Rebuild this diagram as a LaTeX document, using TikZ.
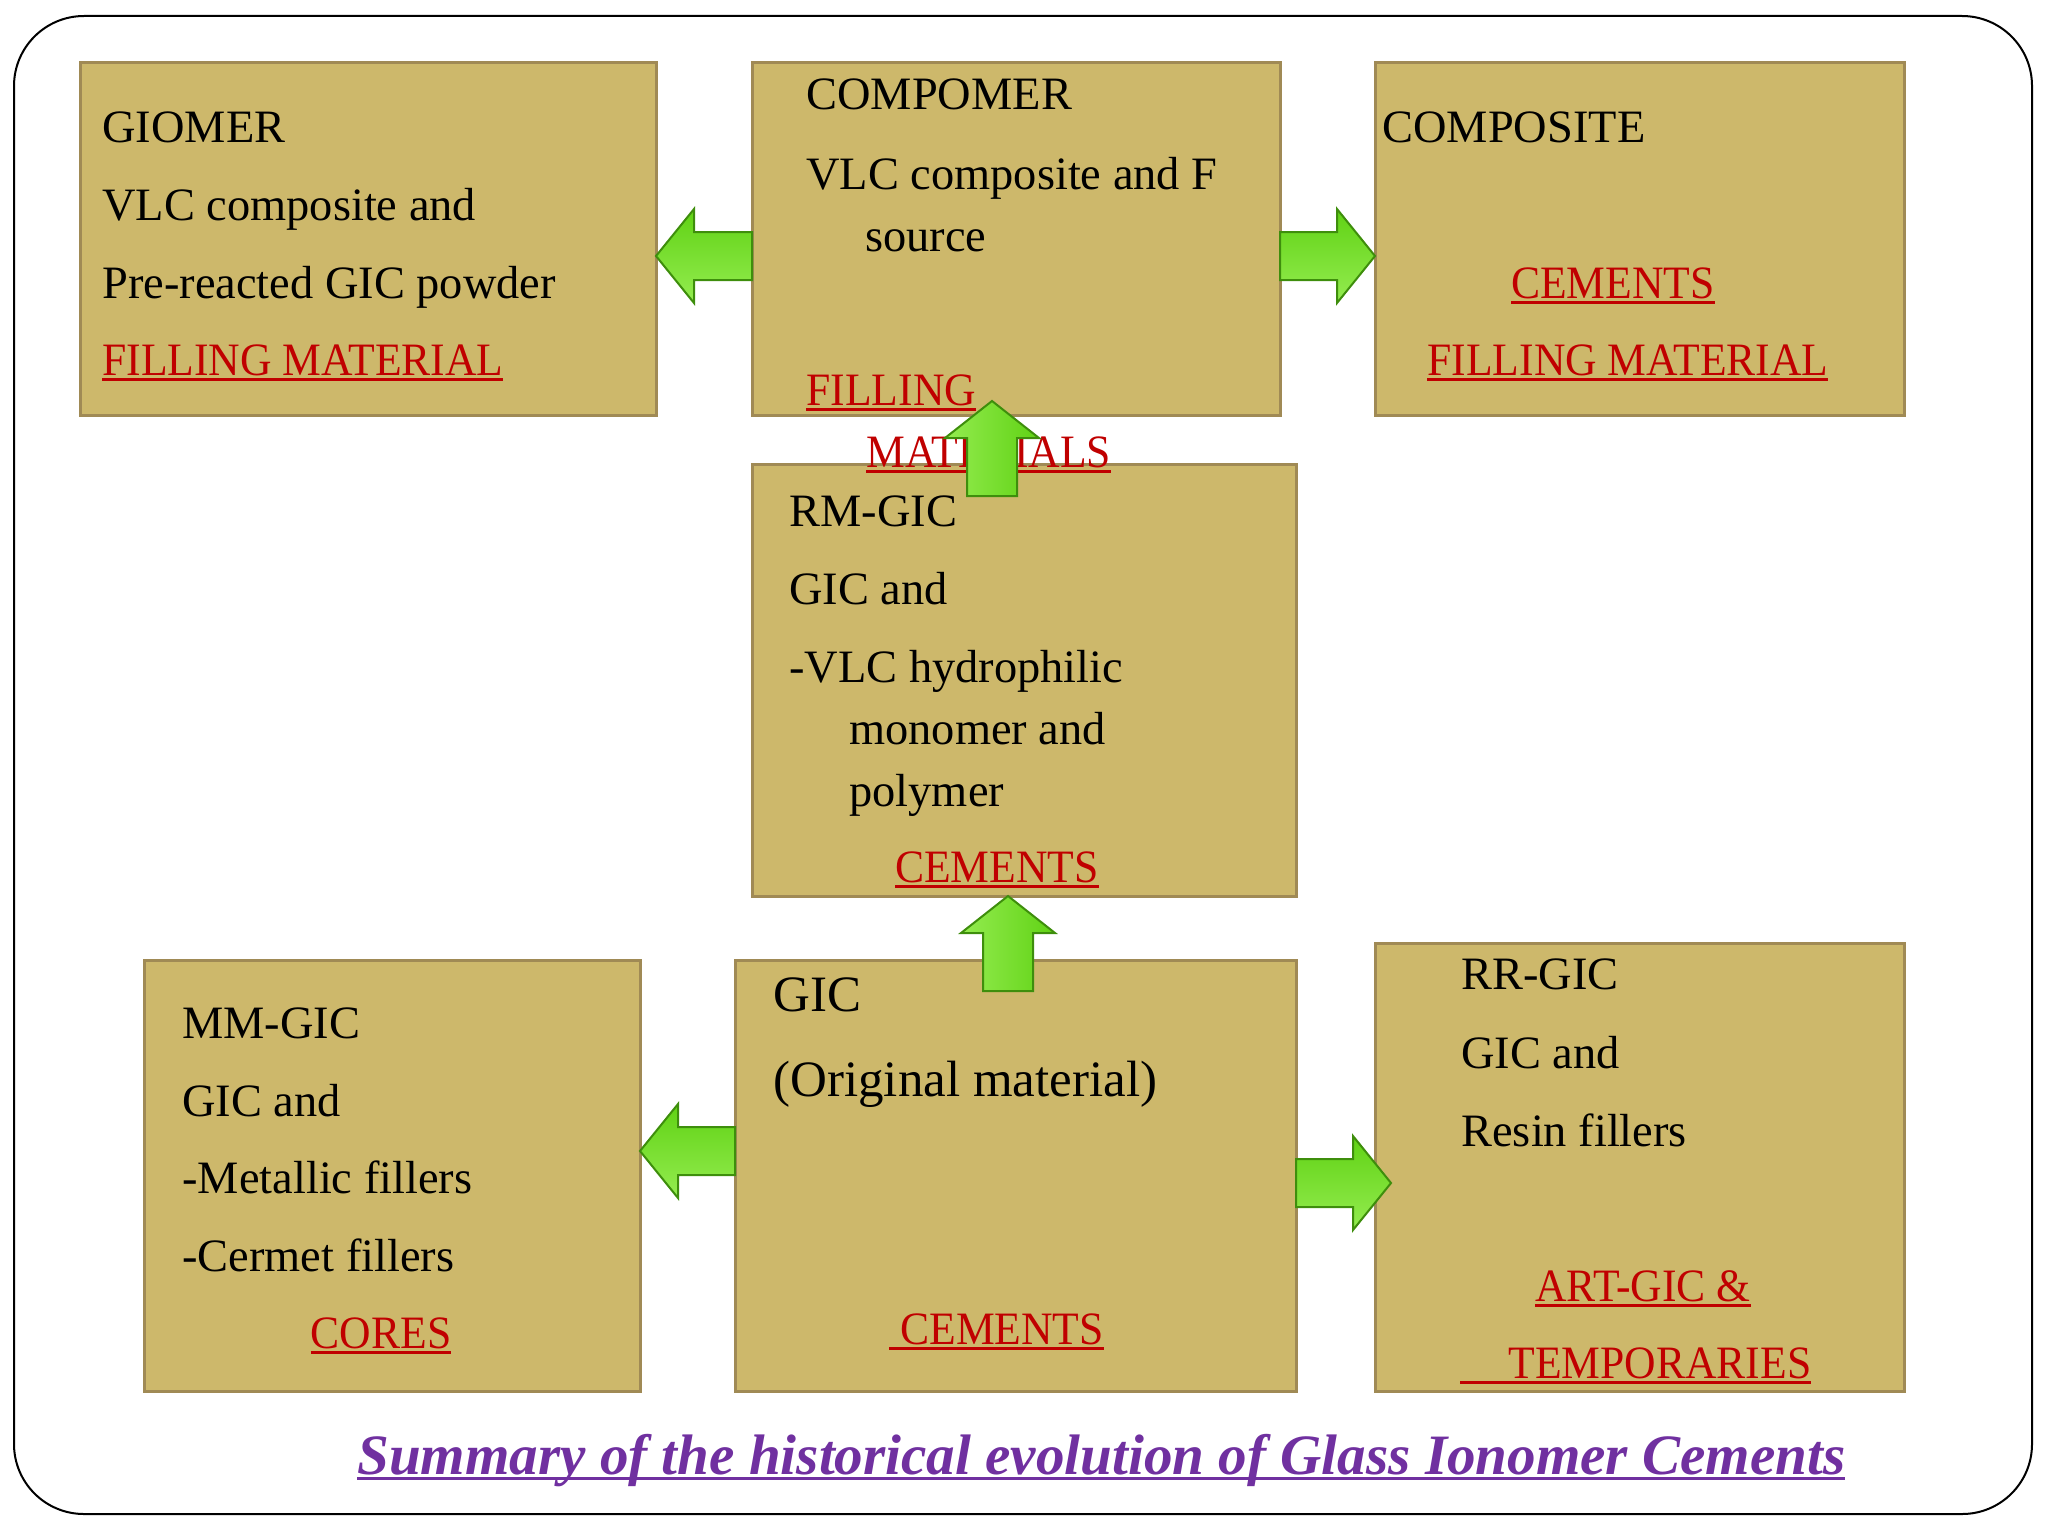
\documentclass[tikz,border=0pt]{standalone}
\usepackage{fontspec}
\setmainfont{Liberation Serif}
\newfontfamily\redfont[FakeStretch=0.94]{Liberation Serif}
\usetikzlibrary{calc}
\definecolor{boxfill}{HTML}{CDB86B}
\definecolor{boxline}{HTML}{A08A55}
\definecolor{redtxt}{HTML}{C00000}
\definecolor{titlep}{HTML}{7030A0}
\definecolor{gfill}{HTML}{60D214}
\definecolor{glight}{HTML}{94EC50}
\definecolor{gline}{HTML}{3E8E0C}
\newcommand\ulred[1]{\setbox0=\hbox{#1}\rlap{\rule[-3pt]{\wd0}{1.5pt}}\box0}
\newcommand\harrow[2]{%
 \draw[arrowstyle, top color=gfill, bottom color=glight] let \p1=(#1), \p2=(#2), \n1={ifthenelse(\x2>\x1,1,-1)}, \n2={\x2-\n1*19pt} in
 (\x1,\y1+12pt) -- (\n2,\y1+12pt) -- (\n2,\y1+23.5pt) -- (\x2,\y1)
 -- (\n2,\y1-23.5pt) -- (\n2,\y1-12pt) -- (\x1,\y1-12pt) -- cycle;}
\newcommand\varrow[2]{%
 \draw[arrowstyle, left color=glight, right color=gfill] let \p1=(#1), \p2=(#2), \n1={ifthenelse(\y2>\y1,1,-1)}, \n2={\y2-\n1*18.5pt} in
 (\x1+12.5pt,\y1) -- (\x1+12.5pt,\n2) -- (\x1+23.5pt,\n2) -- (\x1,\y2)
 -- (\x1-23.5pt,\n2) -- (\x1-12.5pt,\n2) -- (\x1-12.5pt,\y1) -- cycle;}
\begin{document}
\begin{tikzpicture}[x=0.5pt,y=-0.5pt,
  box/.style={draw=boxline, fill=boxfill, line width=1.5pt, anchor=north west, inner sep=0, outer sep=0},
  txt/.style={anchor=base west, inner sep=0, font=\fontsize{23.2pt}{28pt}\selectfont},
  ctxt/.style={anchor=base, inner sep=0, font=\fontsize{23.2pt}{28pt}\selectfont},
  big/.style={anchor=base west, inner sep=0, font=\fontsize{25.5pt}{30pt}\selectfont},
  red/.style={text=redtxt, font=\fontsize{23.2pt}{28pt}\redfont},
  arrowstyle/.style={draw=gline, line width=1pt, line join=miter}]
\useasboundingbox (0,0) rectangle (2048,1536);
\draw[line width=1pt, rounded corners=35pt] (14,16) rectangle (2032,1514);

% boxes
\node[box, minimum width=288pt, minimum height=176pt] (giomer) at (80,63) {};
\node[box, minimum width=264pt, minimum height=176pt] (compomer) at (752,63) {};
\node[box, minimum width=264.5pt, minimum height=176pt] (composite) at (1375,63) {};
\node[box, minimum width=272pt, minimum height=216pt] (rmgic) at (752,464) {};
\node[box, minimum width=248pt, minimum height=215.5pt] (mmgic) at (144,960) {};
\node[box, minimum width=280.5pt, minimum height=215.5pt] (gic) at (735,960) {};
\node[box, minimum width=264.5pt, minimum height=224pt] (rrgic) at (1375,943) {};

% GIOMER
\node[txt] (g1) at (102,142) {GIOMER};
\node[txt] (g2) at (102,220) {VLC composite and};
\node[txt] (g3) at (102,298) {Pre-reacted GIC powder};
\node[txt, red] (g4) at (102,375) {\ulred{FILLING MATERIAL}};
% COMPOMER
\node[txt] (c1) at (806,110) {COMPOMER};
\node[txt] (c2) at (806,189) {VLC composite and F};
\node[txt] (c3) at (865,251) {source};
\node[txt, red] (c4) at (806,405) {\ulred{FILLING}};
\node[txt, red] (c5) at (866,467) {\ulred{MATERIALS}};
% COMPOSITE
\node[txt] (s1) at (1382,142) {COMPOSITE};
\node[ctxt, red] (s2) at (1613,298) {\ulred{CEMENTS}};
\node[txt, red] (s3) at (1427,375) {\ulred{FILLING MATERIAL}};
% RM-GIC
\node[txt] (r1) at (789,526) {RM-GIC};
\node[txt] (r2) at (789,604) {GIC and};
\node[txt] (r3) at (789,682) {-VLC hydrophilic};
\node[txt] (r4) at (849,744) {monomer and};
\node[txt] (r5) at (849,806) {polymer};
\node[ctxt, red] (r6) at (997,882) {\ulred{CEMENTS}};
% MM-GIC
\node[txt] (m1) at (182,1038) {MM-GIC};
\node[txt] (m2) at (182,1116) {GIC and};
\node[txt] (m3) at (182,1193) {-Metallic fillers};
\node[txt] (m4) at (182,1271) {-Cermet fillers};
\node[ctxt, red] (m5) at (381,1348) {\ulred{CORES}};
% GIC
\node[big] (o1) at (773,1011) {GIC};
\node[big] (o2) at (773,1096) {(Original material)};
\node[txt, red] (o3) at (889,1344) {\ulred{\ CEMENTS}};
% RR-GIC
\node[txt] (q1) at (1461,989) {RR-GIC};
\node[txt] (q2) at (1461,1068) {GIC and};
\node[txt] (q3) at (1461,1146) {Resin fillers};
\node[ctxt, red] (q4) at (1643,1301) {\ulred{ART-GIC \&}};
\node[txt, red] (q5) at (1460,1378) {\ulred{\hspace*{24pt}TEMPORARIES}};

% title
\node[anchor=base west, inner sep=0, text=titlep, font=\fontsize{28.55pt}{34pt}\selectfont\bfseries\itshape] (title) at (357,1474)
  {\setbox0=\hbox{Summary of the historical evolution of Glass Ionomer Cements}\rlap{\rule[-2.8pt]{\wd0}{1.5pt}}\box0};

% arrow anchor coordinates
\coordinate (ya) at (0,256);
\coordinate (yb) at (0,1151);
\coordinate (yc) at (0,1183);
\coordinate (u1tail) at (992,496);
\coordinate (u1tip) at (992,401);
\coordinate (u2tail) at (1008,991);
\coordinate (r2tip) at (1391,1183);

\harrow{compomer.west |- ya}{giomer.east |- ya}
\harrow{compomer.east |- ya}{composite.west |- ya}
\varrow{u1tail}{u1tip}
\varrow{u2tail}{u2tail |- rmgic.south}
\harrow{gic.west |- yb}{mmgic.east |- yb}
\harrow{gic.east |- yc}{r2tip}
\end{tikzpicture}
\end{document}
